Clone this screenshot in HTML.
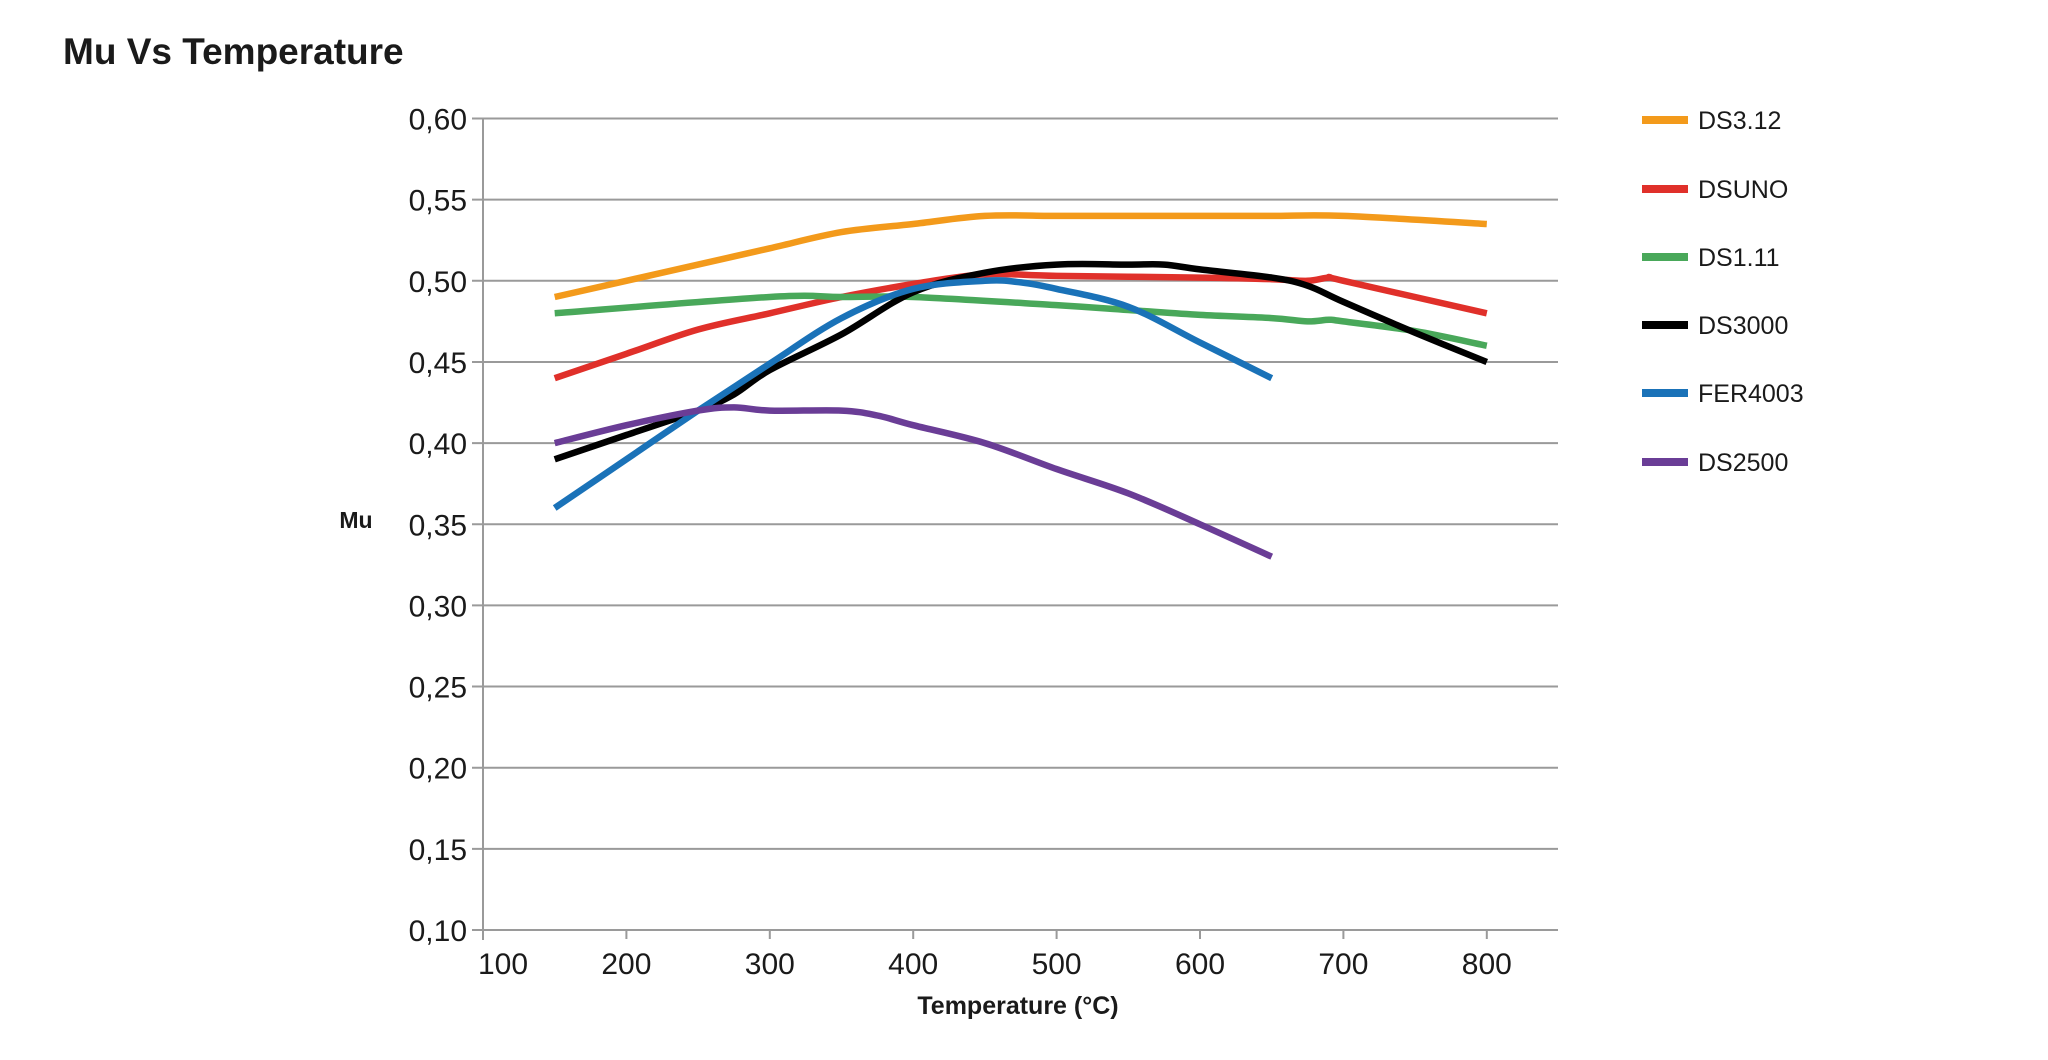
<!DOCTYPE html>
<html><head><meta charset="utf-8"><style>
html,body{margin:0;padding:0;background:#fff;}
svg{display:block;font-family:"Liberation Sans",sans-serif;}
</style></head><body>
<svg id="c" width="2048" height="1060" xmlns="http://www.w3.org/2000/svg">
<text x="63" y="64" font-size="37" font-weight="bold" fill="#1a1a1a">Mu Vs Temperature</text>
<g id="grid"></g>
<g id="lines" fill="none" stroke-width="6.5" stroke-linejoin="round"></g>
<text x="356" y="528" font-size="23" font-weight="bold" fill="#1a1a1a" text-anchor="middle">Mu</text>
<text x="1018" y="1014" font-size="25" font-weight="bold" fill="#1a1a1a" text-anchor="middle">Temperature (°C)</text>
<g id="leg" font-size="25" fill="#1a1a1a"></g>
</svg>
<script>
var ns="http://www.w3.org/2000/svg";
function X(t){return 483+(t-100)*1.434;}
function Y(v){return 930-(v-0.10)*1623;}
function el(p,n,a,txt){var e=document.createElementNS(ns,n);for(var k in a)e.setAttribute(k,a[k]);if(txt)e.textContent=txt;p.appendChild(e);return e;}
var g=document.getElementById('grid');
for(var i=0;i<=10;i++){var v=0.10+i*0.05,y=Y(v);
 el(g,'line',{x1:472,x2:1558,y1:y,y2:y,stroke:'#9a9a9a','stroke-width':2});
 el(g,'text',{x:467,y:y+11,'font-size':30,'text-anchor':'end',fill:'#1a1a1a'},v.toFixed(2).replace('.',','));}
el(g,'line',{x1:483,x2:483,y1:Y(0.6),y2:940,stroke:'#9a9a9a','stroke-width':2});
for(var t=100;t<=800;t+=100){var x=X(t);
 el(g,'line',{x1:x,x2:x,y1:930,y2:939,stroke:'#9a9a9a','stroke-width':2});
 el(g,'text',{x:x+(t==100?20:0),y:974,'font-size':30,'text-anchor':'middle',fill:'#1a1a1a'},String(t));}
var S=[
['DS3.12','#f39a1b',[[150,.49],[200,.50],[250,.51],[300,.52],[350,.53],[400,.535],[450,.54],[500,.54],[550,.54],[600,.54],[650,.54],[700,.54],[800,.535]]],
['DSUNO','#e0302a',[[150,.44],[200,.455],[250,.47],[300,.48],[350,.49],[400,.498],[450,.504],[500,.503],[600,.502],[650,.501],[675,.5],[690,.502],[700,.5],[800,.48]]],
['DS1.11','#49a85a',[[150,.48],[300,.49],[350,.49],[400,.49],[500,.485],[550,.482],[600,.479],[650,.477],[675,.475],[690,.476],[700,.475],[750,.469],[800,.46]]],
['DS3000','#000000',[[150,.39],[200,.405],[250,.42],[275,.43],[300,.445],[350,.467],[400,.493],[450,.505],[500,.51],[550,.51],[575,.51],[600,.507],[650,.502],[675,.497],[700,.487],[750,.468],[800,.45]]],
['FER4003','#1a72b8',[[150,.36],[200,.39],[250,.42],[300,.449],[350,.477],[400,.495],[450,.5],[475,.499],[500,.495],[550,.484],[600,.462],[650,.44]]],
['DS2500','#6a3d96',[[150,.40],[200,.411],[250,.42],[275,.422],[300,.42],[350,.42],[375,.417],[400,.411],[450,.40],[500,.384],[550,.369],[600,.35],[650,.33]]]];
function path(pts){var P=pts.map(function(p){return [X(p[0]),Y(p[1])];});
 var d='M'+P[0][0].toFixed(1)+','+P[0][1].toFixed(1);
 for(var i=0;i<P.length-1;i++){var p0=P[i-1]||P[i],p1=P[i],p2=P[i+1],p3=P[i+2]||p2;
  var c1=[p1[0]+(p2[0]-p0[0])/6,p1[1]+(p2[1]-p0[1])/6],c2=[p2[0]-(p3[0]-p1[0])/6,p2[1]-(p3[1]-p1[1])/6];
  d+=' C'+c1[0].toFixed(1)+','+c1[1].toFixed(1)+' '+c2[0].toFixed(1)+','+c2[1].toFixed(1)+' '+p2[0].toFixed(1)+','+p2[1].toFixed(1);}
 return d;}
var L=document.getElementById('lines'),G=document.getElementById('leg');
var ly=[120,189,257,325,393,462];
S.forEach(function(s,i){
 el(L,'path',{stroke:s[1],d:path(s[2])});
 el(G,'line',{x1:1642,x2:1688,y1:ly[i],y2:ly[i],stroke:s[1],'stroke-width':8});
 el(G,'text',{x:1698,y:ly[i]+9},s[0]);
});
</script>
</body></html>
